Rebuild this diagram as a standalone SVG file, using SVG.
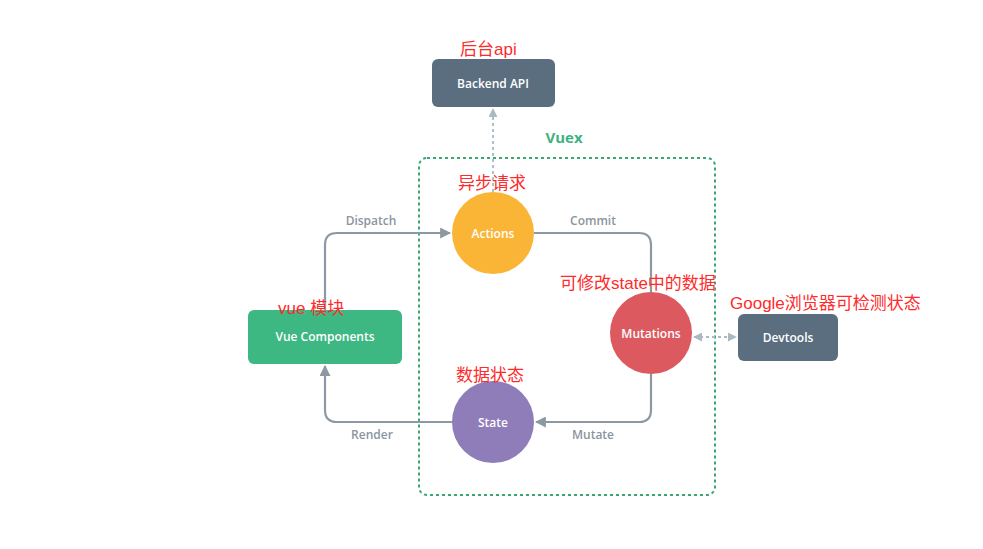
<svg xmlns="http://www.w3.org/2000/svg" width="983" height="549" viewBox="0 0 983 549">
<defs>
<style>
.n{font-family:"Open Sans","Liberation Sans",sans-serif;font-size:12px;font-weight:600;fill:#fff;text-anchor:middle}
.l{font-family:"Open Sans","Liberation Sans",sans-serif;font-size:12px;font-weight:600;fill:#8a959f;text-anchor:middle}
.r{font-family:"Liberation Sans","Noto Sans CJK SC",sans-serif;font-size:17px;fill:#ff2a2a}
.c{fill:none;stroke:#8d99a2;stroke-width:2.2}
.d{fill:none;stroke:#a9bac3;stroke-width:1.8;stroke-dasharray:3 3}
</style>
<marker id="a" viewBox="0 0 10 10" refX="9" refY="5" markerWidth="5" markerHeight="5" orient="auto-start-reverse"><path d="M0,0L10,5L0,10z" fill="#8d99a2"/></marker>
<marker id="b" viewBox="0 0 10 10" refX="9" refY="5" markerWidth="5" markerHeight="5" orient="auto-start-reverse"><path d="M0,0L10,5L0,10z" fill="#a9bac3"/></marker>
</defs>
<rect width="983" height="549" fill="#fff"/>
<rect x="419" y="158" width="296" height="337" rx="8" fill="none" stroke="#3aa672" stroke-width="2" stroke-dasharray="3 3"/>
<text x="564" y="143" style="font-family:'Open Sans','Liberation Sans',sans-serif;font-size:15px;font-weight:700;fill:#3fb27f" text-anchor="middle">Vuex</text>
<g id="connectors">
<path class="c" d="M325,310V245Q325,233 337,233H450" marker-end="url(#a)"/>
<path class="c" d="M534,233H639Q651,233 651,245V292"/>
<path class="c" d="M651,374V410Q651,422 639,422H536" marker-end="url(#a)"/>
<path class="c" d="M452,422H337Q325,422 325,410V366" marker-end="url(#a)"/>
<path class="d" d="M493,192V109" marker-end="url(#b)"/>
<path class="d" d="M694,337H736" marker-start="url(#b)" marker-end="url(#b)"/>
<text class="l" x="371" y="225">Dispatch</text>
<text class="l" x="593" y="225">Commit</text>
<text class="l" x="593" y="439">Mutate</text>
<text class="l" x="372" y="439">Render</text>
</g>
<g id="backend"><rect x="432" y="59" width="123" height="48" rx="6" fill="#5a6e80"/><text class="n" x="493" y="88">Backend API</text></g>
<g id="actions"><circle cx="493" cy="233" r="41" fill="#fbb536"/><text class="n" x="493" y="238">Actions</text></g>
<g id="mutations"><circle cx="651" cy="333" r="41" fill="#dc5960"/><text class="n" x="651" y="338">Mutations</text></g>
<g id="state"><circle cx="493" cy="422" r="41" fill="#8e7db8"/><text class="n" x="493" y="427">State</text></g>
<g id="vue"><rect x="248" y="310" width="154" height="54" rx="6" fill="#3db882"/><text class="n" x="325" y="341">Vue Components</text></g>
<g id="devtools"><rect x="738" y="314" width="100" height="47" rx="6" fill="#5a6e80"/><text class="n" x="788" y="342">Devtools</text></g>
<text class="r" x="460" y="55">后台api</text>
<text class="r" x="458" y="189">异步请求</text>
<text class="r" x="560" y="289">可修改state中的数据</text>
<text class="r" x="278" y="314">vue 模块</text>
<text class="r" x="456" y="381">数据状态</text>
<text class="r" x="730" y="309">Google浏览器可检测状态</text>
</svg>
